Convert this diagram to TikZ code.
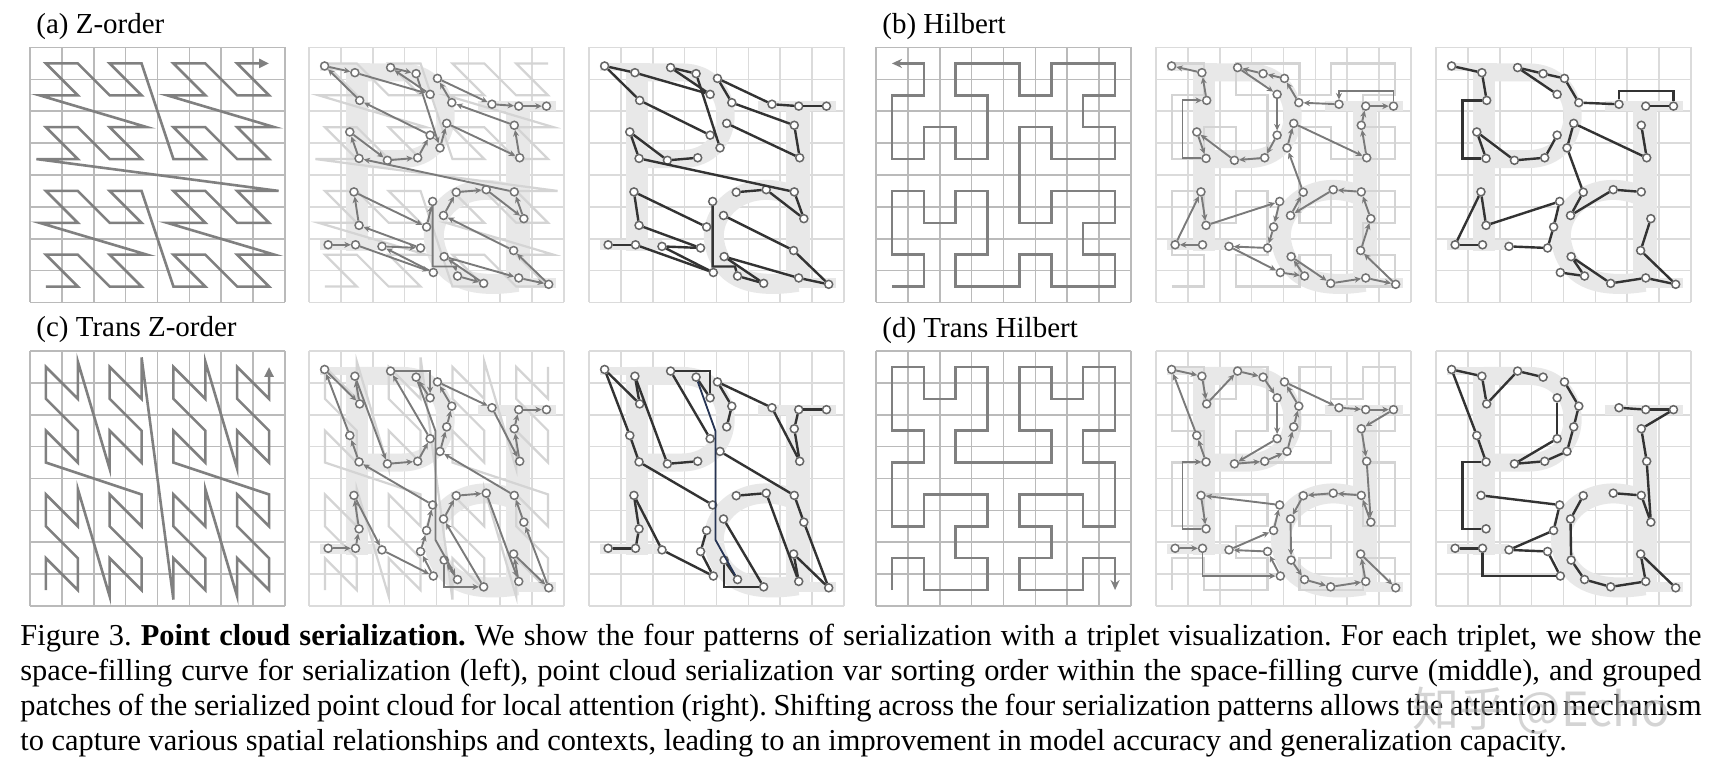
\documentclass[tikz,border=0pt]{standalone}
\usepackage{fontspec}
\setmainfont{Liberation Serif}
\newfontfamily\cjkfont{Noto Sans CJK SC}
\usetikzlibrary{arrows.meta}
\frenchspacing
\definecolor{navyline}{RGB}{38,52,84}
\tikzset{
 gridA/.style={draw=black!27, line width=0.8pt},
 gridB/.style={draw=black!14, line width=0.8pt},
 curveA/.style={draw=black!50, line width=1.3pt, line join=miter},
 curveB/.style={draw=black!17, line width=1.1pt, line join=miter},
 letter/.style={draw=black!9, line cap=butt, line join=round},
 ptM/.style={circle, draw=black!55, fill=white, line width=0.75pt, inner sep=0pt, minimum size=4pt},
 ptR/.style={ptM, draw=black!60},
 arrM/.style={draw=black!52, line width=0.95pt, -{Stealth[length=3.2pt,width=3pt]}},
 segR/.style={draw=black!80, line width=1.2pt},
 labtxt/.style={anchor=base west, inner sep=0pt, font=\fontsize{14.5}{17}\selectfont},
 captxt/.style={anchor=base west, inner sep=0pt, font=\fontsize{15.2}{17}\selectfont},
}
% point cloud (grid units, v from top)
\def\ptlist{1/0.49/0.58, 2/1.44/0.79, 3/2.56/0.63, 4/3.36/0.82, 5/3.80/1.47, 6/4.03/0.97, 7/1.59/1.66, 8/4.48/1.73, 9/5.74/1.78, 10/6.58/1.84, 11/7.45/1.84, 12/4.32/2.38, 13/6.44/2.44, 14/1.28/2.65, 15/3.80/2.75, 16/4.11/3.15, 17/1.57/3.48, 18/2.46/3.54, 19/3.41/3.46, 20/6.61/3.46, 21/1.41/4.53, 22/4.62/4.54, 23/5.56/4.46, 24/6.44/4.53, 25/3.88/4.83, 26/4.22/5.27, 27/6.74/5.37, 28/1.57/5.58, 29/3.69/5.63, 30/0.60/6.19, 31/1.46/6.19, 32/2.29/6.24, 33/3.50/6.29, 34/6.42/6.37, 35/4.24/6.56, 36/3.90/7.06, 37/4.66/7.17, 38/5.48/7.40, 39/6.58/7.23, 40/7.52/7.43}
\def\seqA{30,31,36,32,33,28,21,29,25,37,38,35,39,40,34,26,22,23,27,24,17,14,18,19,15,7,1,2,5,3,4,16,12,20,13,8,6,9,10,11}
\def\seqB{31,30,21,28,25,29,33,32,36,37,35,38,39,40,34,27,24,23,26,22,16,12,20,13,10,11,9,8,6,4,3,5,15,19,18,14,17,7,2,1}
\def\seqC{30,31,28,21,32,36,33,29,25,17,14,1,7,2,18,19,15,3,5,4,37,35,38,26,22,23,39,34,40,27,24,16,12,8,6,9,20,13,10,11}
\def\seqD{30,31,36,33,32,29,25,21,28,17,14,1,2,7,3,4,5,15,18,19,16,12,8,6,9,10,11,13,20,27,24,23,22,26,35,37,38,39,34,40}
\expandafter\def\csname skipA@25-37\endcsname{}
\expandafter\def\csname skipB@11-9\endcsname{}
\expandafter\def\csname skipB@17-7\endcsname{}
\expandafter\def\csname skipC@3-5\endcsname{}
\expandafter\def\csname skipC@35-38\endcsname{}
\expandafter\def\csname skipC@4-37\endcsname{}
\expandafter\def\csname skipD@31-36\endcsname{}
\expandafter\def\csname skipD@28-17\endcsname{}
\def\hlist{0/1,1/1,1/0,2/0,3/0,3/1,2/1,2/2,3/2,3/3,2/3,1/3,1/2,0/2,0/3,0/4,1/4,1/5,0/5,0/6,0/7,1/7,1/6,2/6,2/7,3/7,3/6,3/5,2/5,2/4,3/4,4/4,5/4,5/5,4/5,4/6,4/7,5/7,5/6,6/6,6/7,7/7,7/6,7/5,6/5,6/4,7/4,7/3,7/2,6/2,6/3,5/3,4/3,4/2,5/2,5/1,4/1,4/0,5/0,6/0,6/1,7/1,7/0}
\newcommand\pgrid[1]{\foreach \gi in {0,...,8}{\draw[#1] (\gi,0) -- (\gi,8); \draw[#1] (0,\gi) -- (8,\gi);}}
\newcommand\zcurve[2]{%
 \draw[#1] (0.5,7.5) \foreach \d [evaluate=\d as \zx using {mod(\d,2)+2*mod(floor(\d/4),2)+4*mod(floor(\d/16),2)},
   evaluate=\d as \zy using {mod(floor(\d/2),2)+2*mod(floor(\d/8),2)+4*mod(floor(\d/32),2)},
   evaluate=\d as \dj using {((\zx==7)&&(\zy==3)) ? 0.3 : (((\zx==0)&&(\zy==4)) ? -0.3 : ((((\zx==3)||(\zx==7))&&((\zy==1)||(\zy==5))) ? 0.17 : ((((\zx==0)||(\zx==4))&&((\zy==2)||(\zy==6))) ? -0.2 : 0)))}] in {1,...,63} { -- #2 };}
\newcommand\hcurve[2]{\draw[#1] (0.5,7.5) \foreach \hx/\hy in \hlist { -- #2 };}
\newcommand\placepts[2]{\foreach \pn/\pu/\pv in \ptlist {\node[#2] (#1\pn) at (\pu,\pv) {};}}
\newcommand\drawseq[5]{%
  \foreach \pb [count=\ci, remember=\pb as \pa (initially 0)] in #3 {%
    \ifnum\ci>1
      \pgfmathtruncatemacro\brk{(#5==1)&&(mod(\ci-1,8)==0)}%
      \ifnum\brk=0
        \ifcsname skip#4@\pa-\pb\endcsname\else
          \draw[#2] (#1\pa) -- (#1\pb);%
        \fi
      \fi
    \fi}}
\newcommand\letters{%
 \draw[letter, line width=11pt] (1.52,0.5) -- (1.52,6.4);
 \draw[letter, line width=9pt] (1.5,0.78) -- (2.9,0.78) .. controls (4.75,0.78) and (4.75,3.5) .. (2.9,3.5) -- (1.5,3.5);
 \draw[letter, line width=4pt] (0.35,0.62) -- (1.9,0.62);
 \draw[letter, line width=5pt] (0.35,6.2) -- (2.3,6.2);
 \draw[letter, line width=5pt] (5.3,1.85) -- (7.75,1.85);
 \draw[letter, line width=12pt] (6.55,1.85) -- (6.55,7.45);
 \draw[letter, line width=10pt] (6.3,4.6) .. controls (4.9,4.1) and (3.7,5.1) .. (3.95,6.2) .. controls (4.2,7.35) and (5.3,7.55) .. (6.55,7.35);
 \draw[letter, line width=5pt] (5.2,7.4) -- (7.75,7.4);}
\begin{document}
\begin{tikzpicture}[x=0.5pt,y=-0.5pt]
\useasboundingbox (0,0) rectangle (1721,779);
\fill[white] (0,0) rectangle (1721,779);
% labels
\node[labtxt] (la) at (36,34) {(a) Z-order};
\node[labtxt] (lb) at (882,34) {(b) Hilbert};
\node[labtxt] (lc) at (36,337) {(c) Trans Z-order};
\node[labtxt] (ld) at (882,338) {(d) Trans Hilbert};
% ---------- (a) ----------
\begin{scope}[shift={(30,47.5)},x=15.9375pt,y=-15.9375pt]
 \pgrid{gridA}
 \zcurve{curveA,-{Triangle[length=5pt,width=4.5pt]}}{(\zx+0.5+\dj,7.5-\zy)}
\end{scope}
\begin{scope}[shift={(309,47.5)},x=15.9375pt,y=-15.9375pt]
 \pgrid{gridB}\letters
 \zcurve{curveB}{(\zx+0.5+\dj,7.5-\zy)}
 \placepts{am}{ptM}
 \drawseq{am}{arrM}{\seqA}{A}{0}
 \draw[arrM] (am25) -- (3.88,6.87) -- (4.58,6.87) -- (am37);
\end{scope}
\begin{scope}[shift={(589,47.5)},x=15.9375pt,y=-15.9375pt]
 \pgrid{gridB}\letters
 \placepts{ar}{ptR}
 \drawseq{ar}{segR}{\seqA}{A}{1}
 \draw[segR] (ar25) -- (3.88,6.87) -- (4.58,6.87) -- (ar37);
\end{scope}
% ---------- (b) ----------
\begin{scope}[shift={(876,47.5)},x=15.9375pt,y=-15.9375pt]
 \pgrid{gridA}
 \hcurve{curveA,-{Stealth[length=5pt,width=4.5pt]}}{(\hy+0.5,7.5-\hx)}
\end{scope}
\begin{scope}[shift={(1156,47.5)},x=15.9375pt,y=-15.9375pt]
 \pgrid{gridB}\letters
 \hcurve{curveB}{(\hy+0.5,7.5-\hx)}
 \placepts{bm}{ptM}
 \drawseq{bm}{arrM}{\seqB}{B}{0}
 \draw[arrM] (bm11) -- (7.45,1.37) -- (5.74,1.37) -- (bm9);
 \draw[arrM] (bm17) -- (0.83,3.48) -- (0.83,1.66) -- (bm7);
\end{scope}
\begin{scope}[shift={(1436,47.5)},x=15.9375pt,y=-15.9375pt]
 \pgrid{gridB}\letters
 \placepts{br}{ptR}
 \drawseq{br}{segR}{\seqB}{B}{1}
 \draw[segR] (br11) -- (7.45,1.37) -- (5.74,1.37) -- (br9);
 \draw[segR] (br17) -- (0.83,3.48) -- (0.83,1.66) -- (br7);
\end{scope}
% ---------- (c) ----------
\begin{scope}[shift={(30,351)},x=15.9375pt,y=-15.9375pt]
 \pgrid{gridA}
 \zcurve{curveA,-{Triangle[length=5pt,width=4.5pt]}}{(\zy+0.5,7.5-\zx-\dj)}
\end{scope}
\begin{scope}[shift={(309,351)},x=15.9375pt,y=-15.9375pt]
 \pgrid{gridB}\letters
 \zcurve{curveB}{(\zy+0.5,7.5-\zx-\dj)}
 \placepts{cm}{ptM}
 \drawseq{cm}{arrM}{\seqC}{C}{0}
 \draw[arrM] (cm3) -| (cm5);
 \draw[arrM] (cm35) |- (cm38);
 \draw[arrM] (cm4) -- (3.97,2.52) -- (3.97,5.93) -- (cm37);
\end{scope}
\begin{scope}[shift={(589,351)},x=15.9375pt,y=-15.9375pt]
 \pgrid{gridB}\letters
 \placepts{cr}{ptR}
 \drawseq{cr}{segR}{\seqC}{C}{1}
 \draw[segR] (cr3) -| (cr5);
 \draw[segR] (cr35) |- (cr38);
 \draw[draw=navyline, line width=0.9pt] (cr4) -- (3.97,2.52) -- (3.97,5.93) -- (cr37);
\end{scope}
% ---------- (d) ----------
\begin{scope}[shift={(876,351)},x=15.9375pt,y=-15.9375pt]
 \pgrid{gridA}
 \hcurve{curveA,-{Stealth[length=5pt,width=4.5pt]}}{(\hx+0.5,7.5-\hy)}
\end{scope}
\begin{scope}[shift={(1156,351)},x=15.9375pt,y=-15.9375pt]
 \pgrid{gridB}\letters
 \hcurve{curveB}{(\hx+0.5,7.5-\hy)}
 \placepts{dm}{ptM}
 \drawseq{dm}{arrM}{\seqD}{D}{0}
 \draw[arrM] (dm31) |- (dm36);
 \draw[arrM] (dm28) -- (0.83,5.58) -- (0.83,3.48) -- (dm17);
\end{scope}
\begin{scope}[shift={(1436,351)},x=15.9375pt,y=-15.9375pt]
 \pgrid{gridB}\letters
 \placepts{dr}{ptR}
 \drawseq{dr}{segR}{\seqD}{D}{1}
 \draw[segR] (dr31) |- (dr36);
 \draw[segR] (dr28) -- (0.83,5.58) -- (0.83,3.48) -- (dr17);
\end{scope}
% ---------- caption ----------
\node[captxt] (c1) at (20,646) {\makebox[840.5pt][s]{Figure 3. \textbf{Point cloud serialization.} We show the four patterns of serialization with a triplet visualization. For each triplet, we show the}};
\node[captxt] (c2) at (20,681) {\makebox[840.5pt][s]{space-filling curve for serialization (left), point cloud serialization var sorting order within the space-filling curve (middle), and grouped}};
\node[captxt] (c3) at (20,716) {\makebox[840.5pt][s]{patches of the serialized point cloud for local attention (right). Shifting across the four serialization patterns allows the attention mechanism}};
\node[captxt] (c4) at (20,751) {to capture various spatial relationships and contexts, leading to an improvement in model accuracy and generalization capacity.};
\node[anchor=base west, inner sep=0pt, text=black!30, opacity=0.55, font=\cjkfont\fontsize{23.5}{23.5}\selectfont] (wm) at (1412,727) {知乎 @Echo};
\end{tikzpicture}
\end{document}
